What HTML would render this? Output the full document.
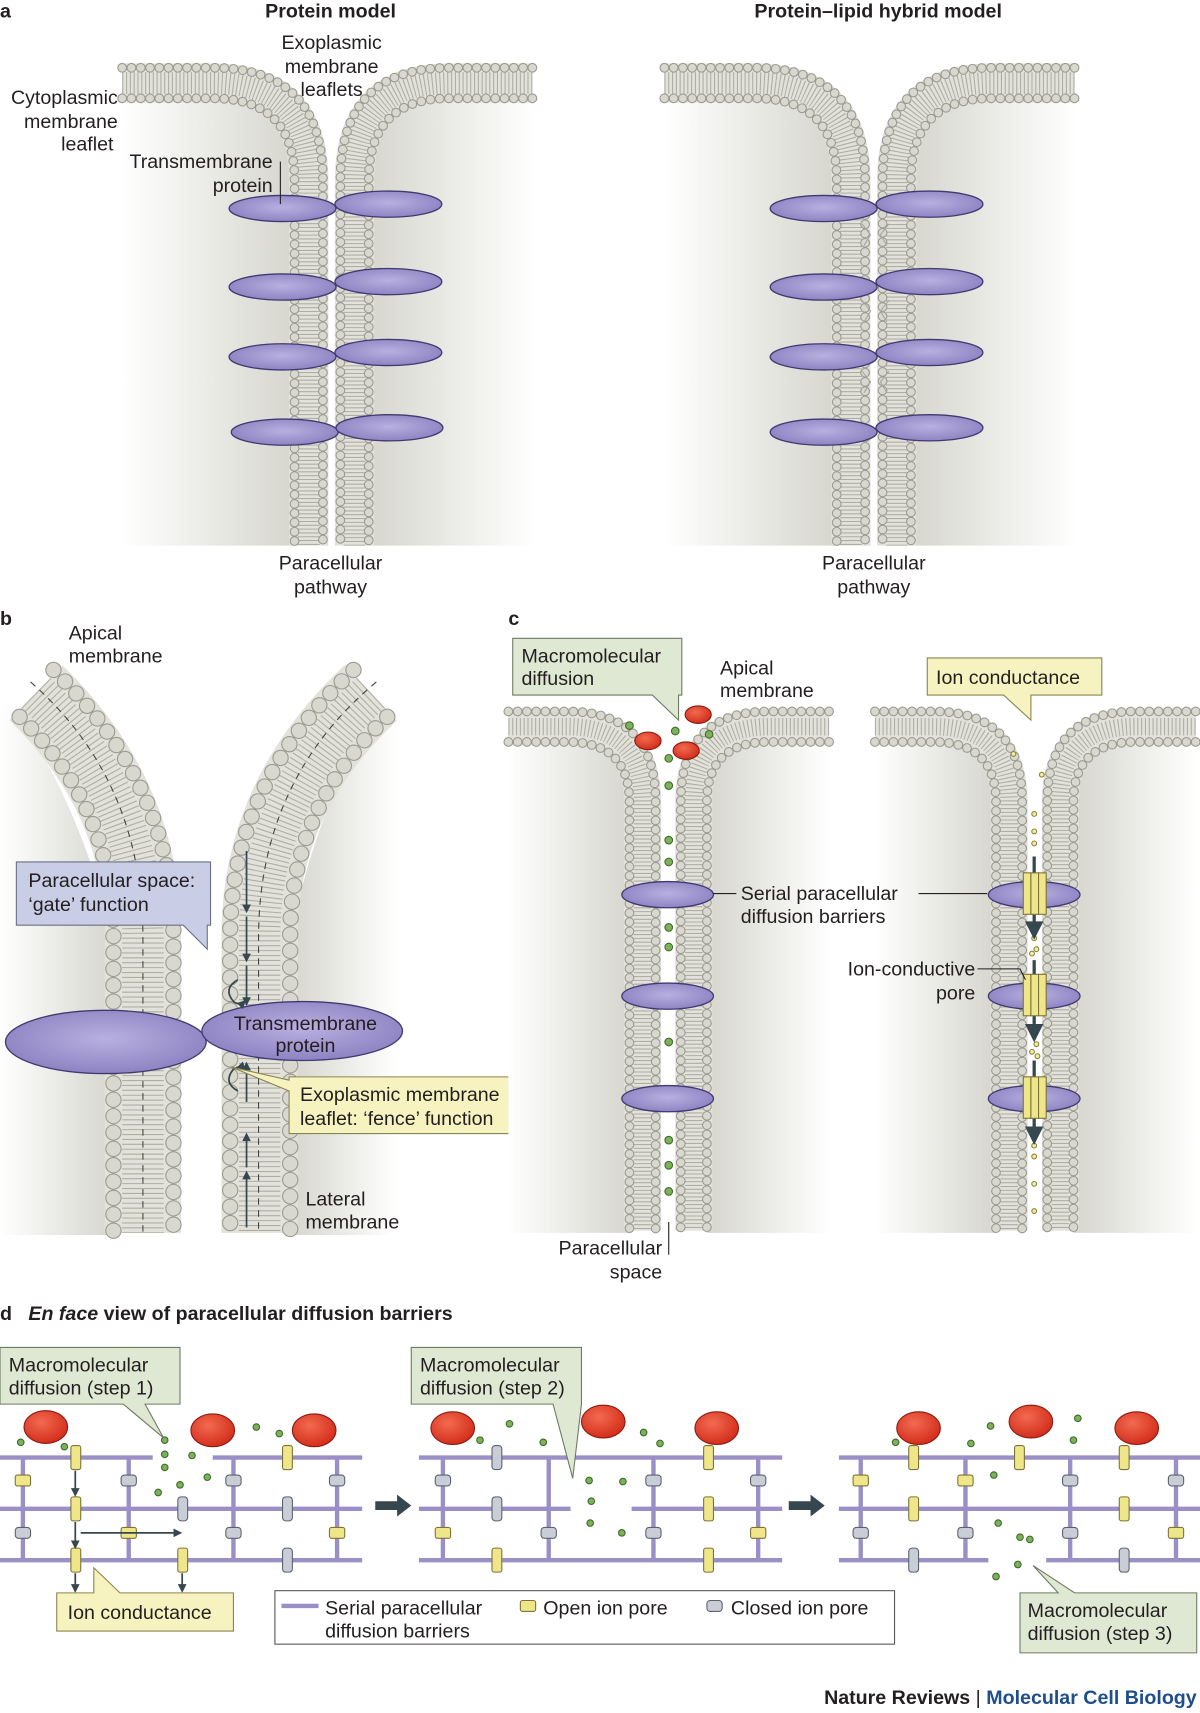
<!DOCTYPE html>
<html><head><meta charset="utf-8"><style>
html,body{margin:0;padding:0;background:#fff}
svg{display:block}
text{font-family:"Liberation Sans",sans-serif;fill:#231f20}
.t{font-size:18px}
.core{fill:none;stroke:#e2e2da;stroke-width:36}
.tail{fill:none;stroke:#aeaea5;stroke-width:20;stroke-dasharray:1 2.5}
.h1{fill:none;stroke:#9a9a91;stroke-width:9;stroke-dasharray:0 8.5;stroke-linecap:round}
.h2{fill:none;stroke:#d8d8cf;stroke-width:7;stroke-dasharray:0 8.5;stroke-linecap:round}
.bcore{fill:none;stroke:#e2e2da;stroke-width:70}
.btail{fill:none;stroke:#aeaea5;stroke-width:38;stroke-dasharray:1 3.5}
.b1{fill:none;stroke:#9a9a91;stroke-width:15;stroke-dasharray:0 15;stroke-linecap:round}
.b2{fill:none;stroke:#d8d8cf;stroke-width:13;stroke-dasharray:0 15;stroke-linecap:round}
.ccore{fill:none;stroke:#e2e2da;stroke-width:34}
.ctail{fill:none;stroke:#aeaea5;stroke-width:16;stroke-dasharray:1 2.5}
.prot{fill:url(#pg);stroke:#3f3a70;stroke-width:1.2}
.lat{stroke:#9b8fc8;stroke-width:4;fill:none}
.op{fill:#efe68a;stroke:#7d7338;stroke-width:1}
.cl{fill:#c9cdd6;stroke:#5d6270;stroke-width:1}
.gd{fill:#7db25a;stroke:#3d6b2a;stroke-width:1}
.yd{fill:#f3ee9b;stroke:#8a8040;stroke-width:1}
.rd{fill:url(#rg);stroke:#8a1a10;stroke-width:1}
.ar{stroke:#37474f;stroke-width:1.6;fill:none;marker-end:url(#ah)}
</style></head><body>
<svg width="1200" height="1713" viewBox="0 0 1100 1570" xmlns="http://www.w3.org/2000/svg">
<defs>
<radialGradient id="pg" cx="0.5" cy="0.45" r="0.6"><stop offset="0" stop-color="#b8b0e0"/><stop offset="1" stop-color="#8a7fc0"/></radialGradient>
<radialGradient id="rg" cx="0.4" cy="0.35" r="0.7"><stop offset="0" stop-color="#f36a50"/><stop offset="1" stop-color="#d12a18"/></radialGradient>
<linearGradient id="gl" x1="0" x2="1"><stop offset="0" stop-color="#fff"/><stop offset="1" stop-color="#d6d6ce"/></linearGradient>
<linearGradient id="gr" x1="1" x2="0"><stop offset="0" stop-color="#fff"/><stop offset="1" stop-color="#d6d6ce"/></linearGradient>
<marker id="ah" markerWidth="8" markerHeight="8" refX="6" refY="4" orient="auto" markerUnits="userSpaceOnUse"><path d="M0,0 L8,4 L0,8 z" fill="#37474f"/></marker>
<path id="a1" d="M112,62 L195,62 Q296,62 296,165 L296,500"/>
<path id="a2" d="M112,90 L195,90 Q270,90 270,165 L270,500"/>
<path id="a3" d="M488,62 L412,62 Q312,62 312,165 L312,500"/>
<path id="a4" d="M488,90 L412,90 Q338,90 338,165 L338,500"/>
<path id="ac1" d="M112,76 L195,76 Q283,76 283,165 L283,500"/>
<path id="ac2" d="M488,76 L412,76 Q325,76 325,165 L325,500"/>
<path id="b1p" d="M18,657 Q104,740 104,858 L104,1130"/>
<path id="b2p" d="M49,614 Q159,720 159,858 L159,1130"/>
<path id="b3p" d="M324,614 Q211,720 211,858 L211,1130"/>
<path id="b4p" d="M355,657 Q266,740 266,858 L266,1130"/>
<path id="bc1" d="M33,635 Q131,730 131,858 L131,1130"/>
<path id="bc2" d="M340,635 Q238,730 238,858 L238,1130"/>
<path id="c1" d="M466,652 L520,652 Q601,652 601,735 L601,1128"/>
<path id="c2" d="M466,680 L520,680 Q577,680 577,735 L577,1128"/>
<path id="c3" d="M760,652 L705,652 Q624,652 624,735 L624,1128"/>
<path id="c4" d="M760,680 L705,680 Q648,680 648,735 L648,1128"/>
<path id="cc1" d="M466,666 L520,666 Q589,666 589,735 L589,1128"/>
<path id="cc2" d="M760,666 L705,666 Q636,666 636,735 L636,1128"/>
</defs>

<!-- ===== Panel a ===== -->
<text x="0" y="16" font-size="18" font-weight="bold">a</text>
<text x="303" y="16" font-size="18" font-weight="bold" text-anchor="middle">Protein model</text>
<text x="805" y="16" font-size="18" font-weight="bold" text-anchor="middle">Protein–lipid hybrid model</text>

<g id="pa">
<path d="M112,90 L195,90 Q270,90 270,165 L270,500 L112,500 Z" fill="url(#gl)"/>
<path d="M490,90 L412,90 Q338,90 338,165 L338,500 L490,500 Z" fill="url(#gr)"/>
<use href="#ac1" class="core"/><use href="#ac2" class="core"/>
<use href="#ac1" class="tail"/><use href="#ac2" class="tail"/>
<use href="#a1" class="h1"/><use href="#a1" class="h2"/>
<use href="#a2" class="h1"/><use href="#a2" class="h2"/>
<use href="#a3" class="h1"/><use href="#a3" class="h2"/>
<use href="#a4" class="h1"/><use href="#a4" class="h2"/>
</g>
<g class="prot">
<ellipse cx="259" cy="191" rx="49" ry="12"/><ellipse cx="356" cy="187" rx="49" ry="12"/>
<ellipse cx="259" cy="263" rx="49" ry="12"/><ellipse cx="356" cy="258" rx="49" ry="12"/>
<ellipse cx="259" cy="327" rx="49" ry="12"/><ellipse cx="356" cy="323" rx="49" ry="12"/>
<ellipse cx="261" cy="396" rx="49" ry="12"/><ellipse cx="357" cy="392" rx="49" ry="12"/>
</g>
<line x1="257" y1="148" x2="257" y2="187" stroke="#231f20" stroke-width="1"/>
<g class="t">
<text x="304" y="45" text-anchor="middle">Exoplasmic</text>
<text x="304" y="67" text-anchor="middle">membrane</text>
<text x="304" y="88" text-anchor="middle">leaflets</text>
<text x="108" y="95" text-anchor="end">Cytoplasmic</text>
<text x="108" y="117" text-anchor="end">membrane</text>
<text x="104" y="138" text-anchor="end">leaflet</text>
<text x="250" y="154" text-anchor="end">Transmembrane</text>
<text x="250" y="176" text-anchor="end">protein</text>
<text x="303" y="522" text-anchor="middle">Paracellular</text>
<text x="303" y="544" text-anchor="middle">pathway</text>
<text x="801" y="522" text-anchor="middle">Paracellular</text>
<text x="801" y="544" text-anchor="middle">pathway</text>
</g>

<use href="#pa" transform="translate(497,0)"/>
<g stroke="#a8a8a0" stroke-width="1" fill="none">
<path d="M790,205 l8,10 l-6,10 M815,205 l-8,10 l6,10 M790,275 l8,10 l-6,10 M815,275 l-8,10 l6,10 M790,340 l8,10 l-6,10 M815,340 l-8,10 l6,10"/>
</g>
<g class="prot">
<ellipse cx="755" cy="191" rx="49" ry="12"/><ellipse cx="852" cy="187" rx="49" ry="12"/>
<ellipse cx="755" cy="263" rx="49" ry="12"/><ellipse cx="852" cy="258" rx="49" ry="12"/>
<ellipse cx="755" cy="327" rx="49" ry="12"/><ellipse cx="852" cy="323" rx="49" ry="12"/>
<ellipse cx="755" cy="396" rx="49" ry="12"/><ellipse cx="852" cy="392" rx="49" ry="12"/>
</g>

<!-- ===== Panel b ===== -->
<text x="0" y="573" font-size="18" font-weight="bold">b</text>
<path d="M0,640 Q60,700 104,858 L104,1132 L0,1132 Z" fill="url(#gl)"/>
<path d="M364,640 Q300,700 266,858 L266,1132 L364,1132 Z" fill="url(#gr)"/>
<use href="#bc1" class="bcore"/><use href="#bc2" class="bcore"/>
<use href="#bc1" class="btail"/><use href="#bc2" class="btail"/>
<use href="#b1p" class="b1"/><use href="#b1p" class="b2"/>
<use href="#b2p" class="b1"/><use href="#b2p" class="b2"/>
<use href="#b3p" class="b1"/><use href="#b3p" class="b2"/>
<use href="#b4p" class="b1"/><use href="#b4p" class="b2"/>
<path d="M28,625 Q131,715 131,860 L131,1130 M345,625 Q237,715 237,860 L237,1130" stroke="#444" stroke-width="1" stroke-dasharray="6 5" fill="none"/>
<ellipse cx="97" cy="955" rx="92" ry="29" class="prot"/>
<ellipse cx="277" cy="945" rx="92" ry="27" class="prot"/>
<g class="ar">
<path d="M226,780 L226,835"/><path d="M226,840 L226,880"/><path d="M226,885 L226,920"/>
<path d="M226,1010 L226,975"/><path d="M226,1070 L226,1040"/><path d="M226,1125 L226,1075"/>
<path d="M218,898 q-14,8 -4,20 q6,4 10,0"/>
<path d="M218,1000 q-14,-8 -4,-20 q6,-4 10,0"/>
</g>
<g class="t">
<text x="63" y="586">Apical</text>
<text x="63" y="607">membrane</text>
<text x="280" y="944" text-anchor="middle">Transmembrane</text>
<text x="280" y="964" text-anchor="middle">protein</text>
<text x="280" y="1105">Lateral</text>
<text x="280" y="1126">membrane</text>
</g>
<path d="M15,790 H193 V848 H190 V870 L168,848 H15 Z" fill="#c9cde6" stroke="#6b6f85" stroke-width="1"/>
<text x="26" y="813" class="t">Paracellular space:</text>
<text x="26" y="835" class="t">‘gate’ function</text>
<path d="M265,987 H483 V1039 H265 V1000 L212,978 L265,990 Z" fill="#f6f3c0" stroke="#8a8550" stroke-width="1"/>
<text x="275" y="1009" class="t">Exoplasmic membrane</text>
<text x="275" y="1031" class="t">leaflet: ‘fence’ function</text>

<!-- ===== Panel c ===== -->
<text x="466" y="573" font-size="18" font-weight="bold">c</text>
<g id="pc">
<path d="M466,680 L520,680 Q577,680 577,735 L577,1130 L466,1130 Z" fill="url(#gl)"/>
<path d="M761,680 L705,680 Q648,680 648,735 L648,1130 L761,1130 Z" fill="url(#gr)"/>
<use href="#cc1" class="ccore"/><use href="#cc2" class="ccore"/>
<use href="#cc1" class="ctail"/><use href="#cc2" class="ctail"/>
<use href="#c1" class="h1"/><use href="#c1" class="h2"/>
<use href="#c2" class="h1"/><use href="#c2" class="h2"/>
<use href="#c3" class="h1"/><use href="#c3" class="h2"/>
<use href="#c4" class="h1"/><use href="#c4" class="h2"/>
</g>
<use href="#pc" transform="translate(336,0)"/>
<g class="prot">
<ellipse cx="612" cy="820" rx="42" ry="12"/><ellipse cx="612" cy="913" rx="42" ry="12"/><ellipse cx="612" cy="1007" rx="42" ry="12"/>
<ellipse cx="948" cy="820" rx="42" ry="12"/><ellipse cx="948" cy="913" rx="42" ry="12"/><ellipse cx="948" cy="1007" rx="42" ry="12"/>
</g>
<g class="rd"><ellipse cx="640" cy="655" rx="12" ry="8"/><ellipse cx="594" cy="679" rx="12" ry="8"/><ellipse cx="629" cy="688" rx="12" ry="8"/></g>
<g class="gd">
<circle cx="577" cy="665" r="3.5"/><circle cx="619" cy="670" r="3.5"/><circle cx="650" cy="673" r="3.5"/><circle cx="613" cy="695" r="3.5"/>
<circle cx="613" cy="720" r="3.5"/><circle cx="613" cy="770" r="3.5"/><circle cx="613" cy="790" r="3.5"/>
<circle cx="613" cy="850" r="3.5"/><circle cx="613" cy="868" r="3.5"/><circle cx="613" cy="955" r="3.5"/>
<circle cx="613" cy="1045" r="3.5"/><circle cx="613" cy="1068" r="3.5"/><circle cx="613" cy="1092" r="3.5"/>
</g>
<g class="yd">
<circle cx="929" cy="691" r="2.2"/><circle cx="955" cy="710" r="2.2"/><circle cx="948" cy="746" r="2.2"/><circle cx="948" cy="762" r="2.2"/><circle cx="948" cy="773" r="2.2"/>
<circle cx="948" cy="860" r="2.2"/><circle cx="946" cy="874" r="2.2"/><circle cx="950" cy="870" r="2.2"/>
<circle cx="950" cy="957" r="2.2"/><circle cx="946" cy="964" r="2.2"/><circle cx="951" cy="968" r="2.2"/>
<circle cx="948" cy="1050" r="2.2"/><circle cx="948" cy="1060" r="2.2"/><circle cx="948" cy="1085" r="2.2"/><circle cx="948" cy="1110" r="2.2"/>
</g>
<g stroke="#37474f" stroke-width="3" fill="#37474f">
<line x1="948" y1="785" x2="948" y2="852"/><path d="M942,846 L948,858 L954,846 z"/>
<line x1="948" y1="880" x2="948" y2="946"/><path d="M942,940 L948,952 L954,940 z"/>
<line x1="948" y1="972" x2="948" y2="1040"/><path d="M942,1034 L948,1046 L954,1034 z"/>
</g>
<g class="op">
<rect x="938" y="800" width="7" height="38"/><rect x="945" y="800" width="7" height="38"/><rect x="952" y="800" width="7" height="38"/>
<rect x="938" y="893" width="7" height="38"/><rect x="945" y="893" width="7" height="38"/><rect x="952" y="893" width="7" height="38"/>
<rect x="938" y="987" width="7" height="38"/><rect x="945" y="987" width="7" height="38"/><rect x="952" y="987" width="7" height="38"/>
</g>
<line x1="654" y1="819" x2="675" y2="819" stroke="#231f20"/>
<line x1="842" y1="819" x2="905" y2="819" stroke="#231f20"/>
<path d="M896,888 L935,888 L940,898" stroke="#231f20" fill="none"/>
<line x1="613" y1="1120" x2="613" y2="1150" stroke="#231f20"/>
<g class="t">
<text x="679" y="825">Serial paracellular</text>
<text x="679" y="846">diffusion barriers</text>
<text x="894" y="894" text-anchor="end">Ion-conductive</text>
<text x="894" y="916" text-anchor="end">pore</text>
<text x="660" y="618">Apical</text>
<text x="660" y="639">membrane</text>
<text x="607" y="1150" text-anchor="end">Paracellular</text>
<text x="607" y="1172" text-anchor="end">space</text>
</g>
<path d="M470,585 H625 V637 H622 L622,660 L598,637 H470 Z" fill="#dfe8d3" stroke="#6e7a62" stroke-width="1"/>
<text x="478" y="607" class="t">Macromolecular</text>
<text x="478" y="628" class="t">diffusion</text>
<path d="M850,603 H1010 V637 H945 L945,660 L920,637 H850 Z" fill="#f6f3c0" stroke="#8a8550" stroke-width="1"/>
<text x="858" y="627" class="t">Ion conductance</text>

<!-- ===== Panel d ===== -->
<text x="0" y="1210" font-size="18" font-weight="bold">d</text>
<text x="26" y="1210" font-size="18" font-weight="bold"><tspan font-style="italic">En face</tspan> view of paracellular diffusion barriers</text>

<g class="lat">
<path d="M0,1336 H140 M195,1336 H332 M0,1383 H332 M0,1430 H332"/>
<path d="M21,1336 V1430 M118,1336 V1430 M214,1336 V1430 M309,1336 V1430"/>
</g>
<g class="lat">
<path d="M384,1336 H717 M384,1383 H523 M579,1383 H717 M384,1430 H717"/>
<path d="M406,1336 V1430 M503,1336 V1430 M599,1336 V1430 M695,1336 V1430"/>
</g>
<g class="lat">
<path d="M769,1336 H1100 M769,1383 H1100 M769,1430 H906 M959,1430 H1100"/>
<path d="M789,1336 V1430 M885,1336 V1430 M981,1336 V1430 M1078,1336 V1430"/>
</g>
<g class="op">
<rect x="65" y="1325" width="9" height="22" rx="2"/><rect x="259" y="1325" width="9" height="22" rx="2"/>
<rect x="65" y="1372" width="9" height="22" rx="2"/>
<rect x="65" y="1419" width="9" height="22" rx="2"/><rect x="163" y="1419" width="9" height="22" rx="2"/>
<rect x="645" y="1325" width="9" height="22" rx="2"/><rect x="645" y="1372" width="9" height="22" rx="2"/>
<rect x="451" y="1419" width="9" height="22" rx="2"/><rect x="645" y="1419" width="9" height="22" rx="2"/>
<rect x="833" y="1325" width="9" height="22" rx="2"/><rect x="930" y="1325" width="9" height="22" rx="2"/><rect x="1026" y="1325" width="9" height="22" rx="2"/>
<rect x="833" y="1372" width="9" height="22" rx="2"/><rect x="1026" y="1372" width="9" height="22" rx="2"/>
<rect x="14" y="1352" width="14" height="10" rx="2"/><rect x="111" y="1400" width="14" height="10" rx="2"/><rect x="302" y="1400" width="14" height="10" rx="2"/>
<rect x="399" y="1400" width="14" height="10" rx="2"/><rect x="688" y="1400" width="14" height="10" rx="2"/>
<rect x="782" y="1352" width="14" height="10" rx="2"/><rect x="878" y="1352" width="14" height="10" rx="2"/><rect x="1071" y="1400" width="14" height="10" rx="2"/>
</g>
<g class="cl">
<rect x="163" y="1372" width="9" height="22" rx="3"/><rect x="259" y="1372" width="9" height="22" rx="3"/><rect x="259" y="1419" width="9" height="22" rx="3"/>
<rect x="451" y="1325" width="9" height="22" rx="3"/><rect x="451" y="1372" width="9" height="22" rx="3"/>
<rect x="833" y="1419" width="9" height="22" rx="3"/><rect x="1026" y="1419" width="9" height="22" rx="3"/>
<rect x="111" y="1352" width="14" height="10" rx="3"/><rect x="207" y="1352" width="14" height="10" rx="3"/><rect x="302" y="1352" width="14" height="10" rx="3"/>
<rect x="14" y="1400" width="14" height="10" rx="3"/><rect x="207" y="1400" width="14" height="10" rx="3"/>
<rect x="399" y="1352" width="14" height="10" rx="3"/><rect x="592" y="1352" width="14" height="10" rx="3"/><rect x="688" y="1352" width="14" height="10" rx="3"/>
<rect x="496" y="1400" width="14" height="10" rx="3"/><rect x="592" y="1400" width="14" height="10" rx="3"/>
<rect x="974" y="1352" width="14" height="10" rx="3"/><rect x="1071" y="1352" width="14" height="10" rx="3"/>
<rect x="782" y="1400" width="14" height="10" rx="3"/><rect x="878" y="1400" width="14" height="10" rx="3"/><rect x="974" y="1400" width="14" height="10" rx="3"/>
</g>
<g class="ar" stroke-width="1.2">
<path d="M69,1348 L69,1370"/><path d="M69,1395 L69,1418"/><path d="M69,1442 L69,1458"/>
<path d="M74,1405 L165,1405"/><path d="M167,1442 L167,1458"/>
</g>
<g fill="#37474f">
<path d="M344,1376 H364 V1370 L377,1380 L364,1390 V1384 H344 Z"/>
<path d="M723,1376 H743 V1370 L756,1380 L743,1390 V1384 H723 Z"/>
</g>
<g class="rd">
<ellipse cx="42" cy="1308" rx="20" ry="15"/><ellipse cx="195" cy="1311" rx="20" ry="15"/><ellipse cx="288" cy="1311" rx="20" ry="15"/>
<ellipse cx="415" cy="1309" rx="20" ry="15"/><ellipse cx="553" cy="1303" rx="20" ry="15"/><ellipse cx="657" cy="1309" rx="20" ry="15"/>
<ellipse cx="842" cy="1309" rx="20" ry="15"/><ellipse cx="945" cy="1303" rx="20" ry="15"/><ellipse cx="1042" cy="1309" rx="20" ry="15"/>
</g>
<g class="gd">
<circle cx="19" cy="1322" r="3"/><circle cx="59" cy="1326" r="3"/><circle cx="151" cy="1320" r="3"/><circle cx="151" cy="1333" r="3"/>
<circle cx="151" cy="1345" r="3"/><circle cx="176" cy="1334" r="3"/><circle cx="165" cy="1361" r="3"/><circle cx="190" cy="1354" r="3"/>
<circle cx="145" cy="1368" r="3"/><circle cx="235" cy="1308" r="3"/><circle cx="256" cy="1314" r="3"/>
<circle cx="467" cy="1305" r="3"/><circle cx="440" cy="1320" r="3"/><circle cx="498" cy="1322" r="3"/><circle cx="590" cy="1313" r="3"/><circle cx="605" cy="1323" r="3"/>
<circle cx="540" cy="1357" r="3"/><circle cx="571" cy="1358" r="3"/><circle cx="542" cy="1376" r="3"/><circle cx="541" cy="1396" r="3"/><circle cx="570" cy="1405" r="3"/>
<circle cx="821" cy="1322" r="3"/><circle cx="908" cy="1307" r="3"/><circle cx="890" cy="1323" r="3"/><circle cx="988" cy="1300" r="3"/><circle cx="984" cy="1320" r="3"/>
<circle cx="911" cy="1352" r="3"/><circle cx="915" cy="1396" r="3"/><circle cx="935" cy="1409" r="3"/><circle cx="933" cy="1434" r="3"/><circle cx="944" cy="1411" r="3"/><circle cx="913" cy="1445" r="3"/>
</g>

<path d="M0,1235 H165 V1287 H133 L150,1318 L113,1287 H0 Z" fill="#dfe8d3" stroke="#6e7a62" stroke-width="1"/>
<text x="8" y="1257" class="t">Macromolecular</text>
<text x="8" y="1278" class="t">diffusion (step 1)</text>
<path d="M377,1235 H533 V1287 L525,1355 L507,1287 H377 Z" fill="#dfe8d3" stroke="#6e7a62" stroke-width="1"/>
<text x="385" y="1257" class="t">Macromolecular</text>
<text x="385" y="1278" class="t">diffusion (step 2)</text>
<path d="M52,1460 H86 L86,1437 L110,1460 H214 V1495 H52 Z" fill="#f6f3c0" stroke="#8a8550" stroke-width="1"/>
<text x="62" y="1484" class="t">Ion conductance</text>
<path d="M935,1460 H970 L947,1435 L985,1460 H1097 V1515 H935 Z" fill="#dfe8d3" stroke="#6e7a62" stroke-width="1"/>
<text x="942" y="1482" class="t">Macromolecular</text>
<text x="942" y="1503" class="t">diffusion (step 3)</text>

<rect x="252" y="1458" width="568" height="49" fill="#fff" stroke="#555" stroke-width="1"/>
<line x1="258" y1="1472" x2="292" y2="1472" class="lat"/>
<text x="298" y="1480" class="t">Serial paracellular</text>
<text x="298" y="1501" class="t">diffusion barriers</text>
<rect x="477" y="1467" width="14" height="10" rx="2" class="op"/>
<text x="498" y="1480" class="t">Open ion pore</text>
<rect x="648" y="1467" width="14" height="10" rx="3" class="cl"/>
<text x="670" y="1480" class="t">Closed ion pore</text>

<text x="1097" y="1562" font-size="18" font-weight="bold" text-anchor="end"><tspan>Nature Reviews</tspan><tspan font-weight="normal"> | </tspan><tspan fill="#1f4e8c">Molecular Cell Biology</tspan></text>
</svg>
</body></html>
